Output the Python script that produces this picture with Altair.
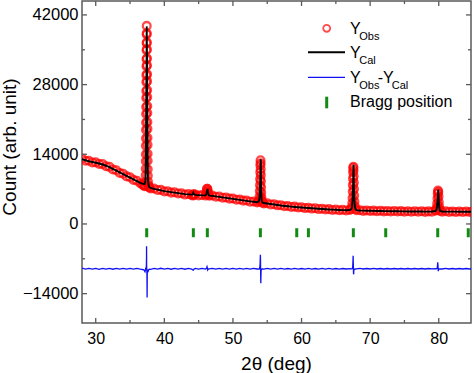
import altair as alt
import pandas as pd

FONT = "Liberation Sans"

# 2-theta scan positions (deg), one row per region of the pattern
two_theta = (
    [28.0, 28.5, 29.0, 29.5, 30.0, 30.5, 31.0, 31.5, 32.0, 32.5, 33.0, 33.5, 34.0, 34.5, 35.0, 35.5, 36.0, 36.5]
    + [36.80, 37.00, 37.10, 37.18, 37.24, 37.28,
       37.292, 37.300, 37.307, 37.315, 37.322, 37.331, 37.338, 37.347, 37.354, 37.363,
       37.370, 37.379, 37.386, 37.395, 37.402, 37.411, 37.418, 37.427, 37.434,
       37.442, 37.450, 37.457, 37.466, 37.473, 37.482, 37.490, 37.497, 37.506, 37.513,
       37.522, 37.530, 37.539, 37.546, 37.555, 37.563, 37.572, 37.582, 37.596, 37.615,
       37.650, 37.720, 37.800]
    + [38.0, 38.5, 39.0, 39.5, 40.0, 40.5, 41.0, 41.5, 42.0, 42.5, 43.0, 43.5, 44.0, 44.15, 44.23, 44.30, 44.5, 45.0, 45.5, 46.0]
    + [46.10, 46.17, 46.22, 46.27, 46.32, 46.37, 46.44, 46.55]
    + [47.0, 47.5, 48.0, 48.5, 49.0, 49.5, 50.0, 50.5, 51.0, 51.5, 52.0, 52.5, 53.0, 53.5]
    + [53.75, 53.83, 53.88, 53.915, 53.94, 53.96, 53.98, 54.00, 54.02, 54.035,
       54.05, 54.065, 54.08, 54.10, 54.12, 54.145, 54.18, 54.23, 54.32]
    + [54.5, 55.0, 55.5, 56.0, 56.5, 57.0, 57.5, 58.0, 58.5, 59.0, 59.5, 60.0, 60.5,
       61.0, 61.5, 62.0, 62.5, 63.0, 63.5, 64.0, 64.5, 65.0, 65.5, 66.0, 66.5, 67.0]
    + [67.25, 67.35, 67.40, 67.435, 67.46, 67.48, 67.50, 67.52, 67.54, 67.56,
       67.58, 67.60, 67.62, 67.645, 67.67, 67.71, 67.76, 67.85, 68.0]
    + [68.5, 69.0, 69.5, 70.0, 70.5, 71.0, 71.5, 72.0, 72.5, 73.0, 73.5, 74.0, 74.5,
       75.0, 75.5, 76.0, 76.5, 77.0, 77.5, 78.0, 78.5, 79.0, 79.5]
    + [79.65, 79.72, 79.77, 79.81, 79.85, 79.89, 79.93, 79.97, 80.01, 80.06, 80.12, 80.20]
    + [80.5, 81.0, 81.5, 82.0, 82.5, 83.0, 83.5, 84.0, 84.5, 84.9]
)

# observed intensity (counts)
y_obs = (
    [13150, 12720, 12690, 12360, 12380, 12040, 12030, 11610, 11480, 10950, 10790, 10260, 10090, 9560, 9390, 8860, 8690, 8170]
    + [7950, 7800, 7600, 7700, 8400, 9800,
       11100, 12600, 14000, 15700, 17200, 18900, 20400, 22100, 23500, 25300,
       26700, 28500, 29900, 31700, 33100, 34900, 36300, 38100, 39800,
       38300, 36500, 35100, 33300, 31900, 30100, 28700, 26900, 25500, 23700,
       22300, 20500, 19100, 17300, 15900, 14100, 12700, 11000, 9700, 8500,
       7800, 7500, 7330]
    + [7140, 7120, 6810, 6850, 6510, 6580, 6300, 6380, 6110, 6170, 5900, 6030, 5810, 5700, 5950, 5900, 5920, 5720, 5830, 5700]
    + [5950, 6500, 7050, 7050, 6650, 6250, 5870, 5680]
    + [5730, 5480, 5520, 5260, 5320, 5090, 5130, 4880, 4920, 4690, 4720, 4480, 4510, 4300]
    + [4450, 4800, 5500, 6600, 7800, 9000, 10400, 11800, 12800, 12200,
       11000, 9800, 8600, 7400, 6300, 5400, 4800, 4450, 4250]
    + [4130, 4170, 3930, 3970, 3740, 3760, 3560, 3600, 3420, 3480, 3300, 3350, 3190,
       3260, 3090, 3150, 2990, 3060, 2900, 2980, 2820, 2900, 2760, 2840, 2720, 2820]
    + [2950, 3400, 4200, 5200, 6500, 7800, 9100, 10400, 11300, 11500,
       10800, 9600, 8300, 7000, 5700, 4500, 3600, 3000, 2750]
    + [2760, 2630, 2710, 2590, 2680, 2550, 2640, 2530, 2620, 2510, 2600, 2490, 2580,
       2470, 2560, 2450, 2550, 2440, 2540, 2430, 2530, 2460, 2640]
    + [2800, 3300, 4100, 5100, 6100, 6700, 6400, 5500, 4400, 3500, 2900, 2600]
    + [2450, 2540, 2430, 2520, 2420, 2510, 2410, 2510, 2400, 2500]
)

# calculated (refined) profile
y_cal = (
    [13000, 12800, 12600, 12450, 12300, 12150, 11950, 11700, 11400, 11050, 10700, 10350, 10000, 9650, 9300, 8950, 8600, 8250]
    + [8100, 8000, 8000, 8300, 8700, 9600,
       11000, 12400, 13900, 15500, 17100, 18700, 20300, 21900, 23400, 25000,
       26400, 28000, 29000, 30000, 31000, 30400, 35200, 38000, 39700,
       38400, 36800, 35700, 34400, 34000, 34000, 34500, 31000, 27500, 24500,
       22700, 20800, 19400, 17600, 16300, 14600, 13300, 11700, 10300, 9100,
       8300, 7700, 7400]
    + [7250, 7050, 6900, 6750, 6600, 6500, 6400, 6300, 6200, 6100, 6000, 5950, 5900, 5950, 6250, 6000, 5850, 5800, 5750, 5780]
    + [5900, 6300, 6650, 6900, 6900, 6400, 5900, 5700]
    + [5650, 5550, 5450, 5350, 5250, 5150, 5050, 4950, 4850, 4750, 4650, 4550, 4450, 4350]
    + [4500, 4850, 5400, 6300, 7200, 8000, 8400, 9000, 11000, 12600,
       13000, 12700, 10200, 7900, 6500, 5500, 4900, 4500, 4300]
    + [4200, 4100, 4000, 3900, 3800, 3700, 3620, 3550, 3480, 3420, 3360, 3300, 3250,
       3200, 3150, 3100, 3050, 3000, 2960, 2920, 2880, 2850, 2820, 2790, 2770, 2800]
    + [2980, 3420, 4150, 5000, 6000, 6800, 7400, 7800, 9800, 11200,
       11900, 10600, 8600, 7100, 5800, 4600, 3700, 3050, 2770]
    + [2700, 2680, 2660, 2640, 2620, 2600, 2590, 2580, 2570, 2560, 2550, 2540, 2530,
       2520, 2510, 2500, 2500, 2490, 2490, 2480, 2480, 2500, 2600]
    + [2820, 3250, 3900, 4600, 4800, 6100, 6900, 5700, 4500, 3550, 2950, 2620]
    + [2500, 2480, 2480, 2470, 2470, 2460, 2460, 2460, 2450, 2450]
)

# Bragg reflection positions (deg)
bragg_pos = [37.43, 44.23, 46.27, 54.0, 59.3, 61.0, 67.55, 72.27, 79.85, 84.3]

# axis ticks
x_major = [30, 40, 50, 60, 70, 80]
x_minor = [35, 45, 55, 65, 75]
y_major = [-14000, 0, 14000, 28000, 42000]
y_minor = [-7000, 7000, 21000, 35000]

DIFF_OFFSET = -9000           # vertical shift of the difference curve
BRAGG_TOP, BRAGG_BOT = -860, -2670

W, H = 389, 322
AXIS_COLOR = "#5a5a5a"
RED, BLUE, GREEN = "#ff0000", "#1010f5", "#138a13"
PT_SIZE, PT_STROKE = 60, 2.3

df = pd.DataFrame({"two_theta": two_theta, "y_obs": y_obs, "y_cal": y_cal})
df["y_diff"] = df["y_obs"] - df["y_cal"] + DIFF_OFFSET

x_scale = alt.Scale(domain=[28, 84.7], nice=False, zero=False)
y_scale = alt.Scale(domain=[-19900, 44800], nice=False, zero=False)

x_axis = alt.Axis(values=x_major, title=None, grid=False, domain=False, ticks=False, tickSize=0,
                  labelFont=FONT, labelFontSize=16, labelColor="black", labelPadding=7.5, format="d")
y_axis = alt.Axis(values=y_major, title=None, grid=False, domain=False, ticks=False, tickSize=0,
                  labelFont=FONT, labelFontSize=16.5, labelColor="black", labelPadding=4, format="d")


def X(field):
    return alt.X(field, scale=x_scale, axis=x_axis, title=None)


def Y(field):
    return alt.Y(field, scale=y_scale, axis=y_axis, title=None)


base = alt.Chart(df)

obs = base.mark_point(shape="circle", filled=False, color=RED, size=PT_SIZE,
                      strokeWidth=PT_STROKE, clip=True).encode(x=X("two_theta:Q"), y=Y("y_obs:Q"))
cal = base.mark_line(color="black", strokeWidth=1.9, clip=True).encode(x=X("two_theta:Q"), y=Y("y_cal:Q"))
diff = base.mark_line(color=BLUE, strokeWidth=1.3, clip=True).encode(x=X("two_theta:Q"), y=Y("y_diff:Q"))

bragg_df = pd.DataFrame({"pos": bragg_pos, "top": BRAGG_TOP, "bot": BRAGG_BOT})
bragg = alt.Chart(bragg_df).mark_rule(color=GREEN, strokeWidth=3).encode(
    x=X("pos:Q"), y=Y("top:Q"), y2="bot:Q")


def xticks(values, length):
    d = alt.Chart(pd.DataFrame({"v": values}))
    bottom = d.mark_rule(color=AXIS_COLOR, strokeWidth=1.3).encode(
        x=X("v:Q"), y=alt.value(H), y2=alt.value(H - length))
    top = d.mark_rule(color=AXIS_COLOR, strokeWidth=1.3).encode(
        x=X("v:Q"), y=alt.value(0), y2=alt.value(length))
    return [bottom, top]


def yticks(values, length):
    d = alt.Chart(pd.DataFrame({"v": values}))
    left = d.mark_rule(color=AXIS_COLOR, strokeWidth=1.3).encode(
        y=Y("v:Q"), x=alt.value(0), x2=alt.value(length))
    right = d.mark_rule(color=AXIS_COLOR, strokeWidth=1.3).encode(
        y=Y("v:Q"), x=alt.value(W), x2=alt.value(W - length))
    return [left, right]


one = pd.DataFrame({"k": [0]})


def text(txt, x, y, size, angle=0, align="left"):
    return alt.Chart(one).mark_text(text=txt, font=FONT, fontSize=size, color="black", align=align,
                                    baseline="alphabetic", angle=angle).encode(x=alt.value(x), y=alt.value(y))


# legend block
leg_obs = alt.Chart(one).mark_point(shape="circle", filled=False, color=RED, size=48,
                                    strokeWidth=1.8).encode(x=alt.value(244.7), y=alt.value(27.3))
leg_cal = alt.Chart(one).mark_rule(color="black", strokeWidth=1.9).encode(
    x=alt.value(226), x2=alt.value(263), y=alt.value(51.3))
leg_diff = alt.Chart(one).mark_rule(color=BLUE, strokeWidth=1.3).encode(
    x=alt.value(226), x2=alt.value(263), y=alt.value(76.3))
leg_bragg = alt.Chart(one).mark_rule(color=GREEN, strokeWidth=3).encode(
    x=alt.value(244.7), y=alt.value(95.7), y2=alt.value(107.3))

legend_texts = [
    text("Y", 268, 33, 16), text("Obs", 277.3, 38.5, 11),
    text("Y", 268, 57.3, 16), text("Cal", 277.3, 62.5, 11),
    text("Y", 268, 82.3, 16), text("Obs", 277.3, 87.5, 11),
    text("-Y", 295.7, 82.3, 16), text("Cal", 309.7, 87.5, 11),
    text("Bragg position", 268, 106.3, 16),
]

titles = [
    text("2θ (deg)", W / 2, 368.5, 19, align="center"),
    text("Count (arb. unit)", -66.5, 146, 19, angle=270, align="center"),
]

chart = alt.layer(
    obs, cal, diff, bragg,
    *xticks(x_major, 5), *xticks(x_minor, 3),
    *yticks(y_major, 5), *yticks(y_minor, 3),
    leg_obs, leg_cal, leg_diff, leg_bragg,
    *legend_texts, *titles,
).properties(
    width=W, height=H,
    padding={"left": 82, "top": 1, "right": 3, "bottom": 50},
    autosize=alt.AutoSizeParams(type="none"),
).configure_view(stroke=AXIS_COLOR, strokeWidth=1.5)

chart.save("out.html", embed_options={"renderer": "svg", "actions": False})
